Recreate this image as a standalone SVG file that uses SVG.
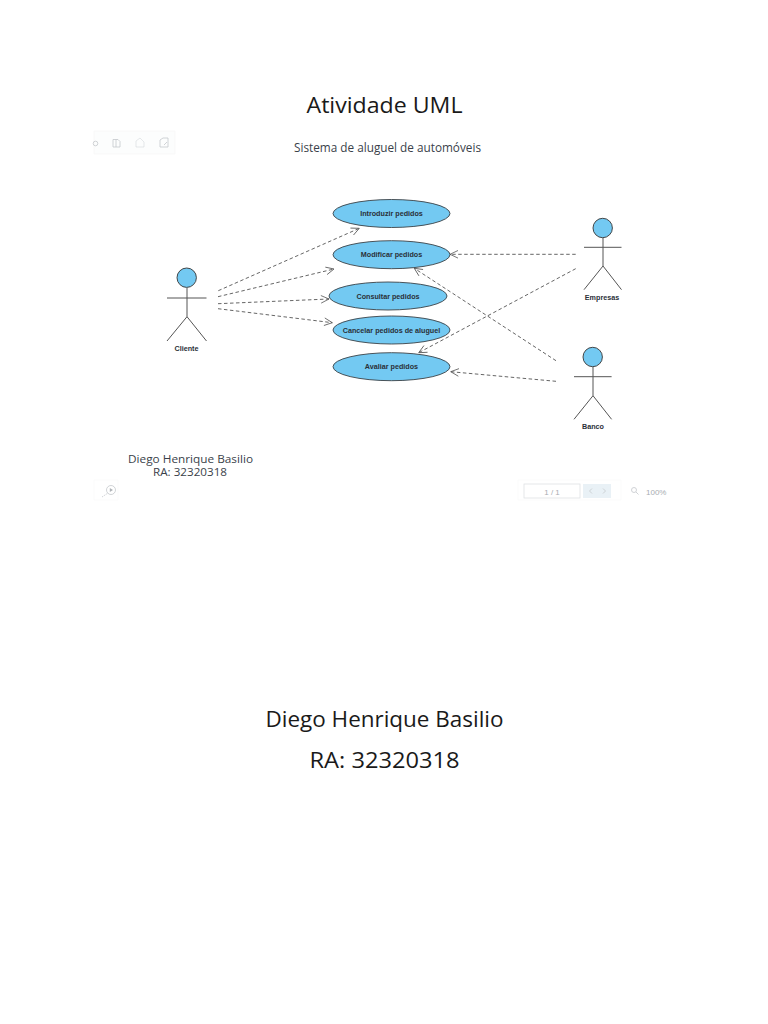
<svg xmlns="http://www.w3.org/2000/svg" width="768" height="1024" viewBox="0 0 768 1024">
<style>
.doc{font-family:"Open Sans","Liberation Sans",sans-serif;fill:#1a1a1a;text-anchor:middle}
.shot{font-family:"Open Sans","Liberation Sans",sans-serif;fill:#3a3f4a;text-anchor:middle}
.uc{fill:#73c9f2;stroke:#3c4246;stroke-width:.9}
.lbl{font-family:"Liberation Sans",Arial,sans-serif;font-weight:bold;font-size:7.2px;fill:#2a3038;text-anchor:middle}
.head{fill:#73c9f2;stroke:#333;stroke-width:.9}
.limb{fill:none;stroke:#555;stroke-width:1}
.dep{fill:none;stroke:#555;stroke-width:.9;stroke-dasharray:3.500 2.500;marker-end:url(#open)}
.ui{fill:none;stroke:#c4c8cc;stroke-width:.8}
.uitxt{font-family:"Liberation Sans",Arial,sans-serif;font-size:8px;fill:#a8adb2}
</style>
<defs>
<marker id="open" markerUnits="userSpaceOnUse" markerWidth="12" markerHeight="12" refX="10" refY="5" orient="auto">
<path d="M2 1.200 L10 5 L2 8.800" fill="none" stroke="#555" stroke-width=".8"/>
</marker>
</defs>
<rect width="768" height="1024" fill="#fff"/>
<text class="doc" x="384.500" y="112.500" font-size="22.500" textLength="156" lengthAdjust="spacingAndGlyphs">Atividade UML</text>
<text class="shot" x="387.500" y="152" font-size="12" textLength="187" lengthAdjust="spacingAndGlyphs">Sistema de aluguel de automóveis</text>
<g id="toolbar">
<rect x="94" y="131" width="81" height="23" fill="#fcfdfd" stroke="#f5f6f6" stroke-width=".6"/>
<circle class="ui" cx="95.500" cy="143.500" r="2.300"/>
<path class="ui" d="M113 147V139.500H118L120 141.500V147Z M116 139.500V147"/>
<path class="ui" stroke-opacity=".5" d="M136 147V141L140 138L144 142V147Z"/>
<path class="ui" d="M160 147V140L163 138H168V147Z M164 145L167 142"/>
</g>
<g id="connectors">
<path class="dep" d="M218.300 290.700 L359.300 228.300"/>
<path class="dep" d="M218 296.700 L334 269"/>
<path class="dep" d="M218 303.700 L329 299"/>
<path class="dep" d="M218 308.700 L332.300 322.700"/>
<path class="dep" d="M575.700 254.300 L450 254.300"/>
<path class="dep" d="M575.700 268.700 L418.700 352.700"/>
<path class="dep" d="M556 360.700 L414.300 268.300"/>
<path class="dep" d="M556 381.300 L450.700 371.700"/>
</g>
<g id="uc-introduzir"><ellipse class="uc" cx="391.500" cy="213.500" rx="58.500" ry="14"/><text class="lbl" x="391.500" y="216">Introduzir pedidos</text></g>
<g id="uc-modificar"><ellipse class="uc" cx="391.500" cy="254.700" rx="58.500" ry="14"/><text class="lbl" x="391.500" y="257.200">Modificar pedidos</text></g>
<g id="uc-consultar"><ellipse class="uc" cx="388" cy="296" rx="59" ry="14"/><text class="lbl" x="388" y="298.500">Consultar pedidos</text></g>
<g id="uc-cancelar"><ellipse class="uc" cx="391.500" cy="330" rx="58.500" ry="14"/><text class="lbl" x="391.500" y="332.500">Cancelar pedidos de aluguel</text></g>
<g id="uc-avaliar"><ellipse class="uc" cx="391.500" cy="366.700" rx="58.500" ry="14"/><text class="lbl" x="391.500" y="369.200">Avaliar pedidos</text></g>
<g id="actor-cliente">
<path class="limb" d="M187 288V316.700 M167 298H206.500 M167 341L187 316.700L206.500 341"/>
<circle class="head" cx="186.700" cy="277.700" r="9.700"/>
<text class="lbl" x="186.500" y="351">Cliente</text>
</g>
<g id="actor-empresas">
<path class="limb" d="M603 238V266 M584 247.300H621.500 M584 289.700L603 266L621.500 289.700"/>
<circle class="head" cx="602.700" cy="228" r="9.700"/>
<text class="lbl" x="602" y="299.500">Empresas</text>
</g>
<g id="actor-banco">
<path class="limb" d="M593 367V395.700 M574 376.700H611.600 M574 419.300L593 395.700L611.600 419.300"/>
<circle class="head" cx="592.700" cy="357" r="9.700"/>
<text class="lbl" x="593" y="428.500">Banco</text>
</g>
<text class="shot" x="190.500" y="463" font-size="11.500" textLength="125" lengthAdjust="spacingAndGlyphs">Diego Henrique Basilio</text>
<text class="shot" x="190" y="476" font-size="11.500" textLength="74" lengthAdjust="spacingAndGlyphs">RA: 32320318</text>
<g id="viewer-controls">
<rect x="94" y="480" width="24" height="20" fill="#fff" stroke="#f6f7f7" stroke-width=".5"/>
<circle class="ui" cx="111" cy="490" r="4.500"/>
<path d="M109.800 488L113 490L109.800 492Z" fill="#b0b4b8"/>
<path class="ui" stroke-dasharray="1.500 1" d="M102 497L108 493"/>
<rect x="518" y="480" width="103" height="20" fill="#fff" stroke="#f6f7f7" stroke-width=".5"/>
<rect x="524" y="484" width="56" height="14" fill="#fff" stroke="#dfe2e4" stroke-width=".8"/>
<text class="uitxt" x="552" y="494.500" text-anchor="middle">1 / 1</text>
<rect x="583" y="484" width="28" height="14" fill="#e9f1f6"/>
<path class="ui" d="M592 488.500L589.500 491L592 493.500 M603 488.500L605.500 491L603 493.500"/>
<circle class="ui" cx="634" cy="490" r="2.500"/>
<path class="ui" d="M636 492L638.500 494.500"/>
<text class="uitxt" x="646" y="494.500">100%</text>
</g>
<text class="doc" x="384.500" y="727" font-size="22.500" textLength="238" lengthAdjust="spacingAndGlyphs">Diego Henrique Basilio</text>
<text class="doc" x="384.500" y="768" font-size="22.500" textLength="150" lengthAdjust="spacingAndGlyphs">RA: 32320318</text>
</svg>
